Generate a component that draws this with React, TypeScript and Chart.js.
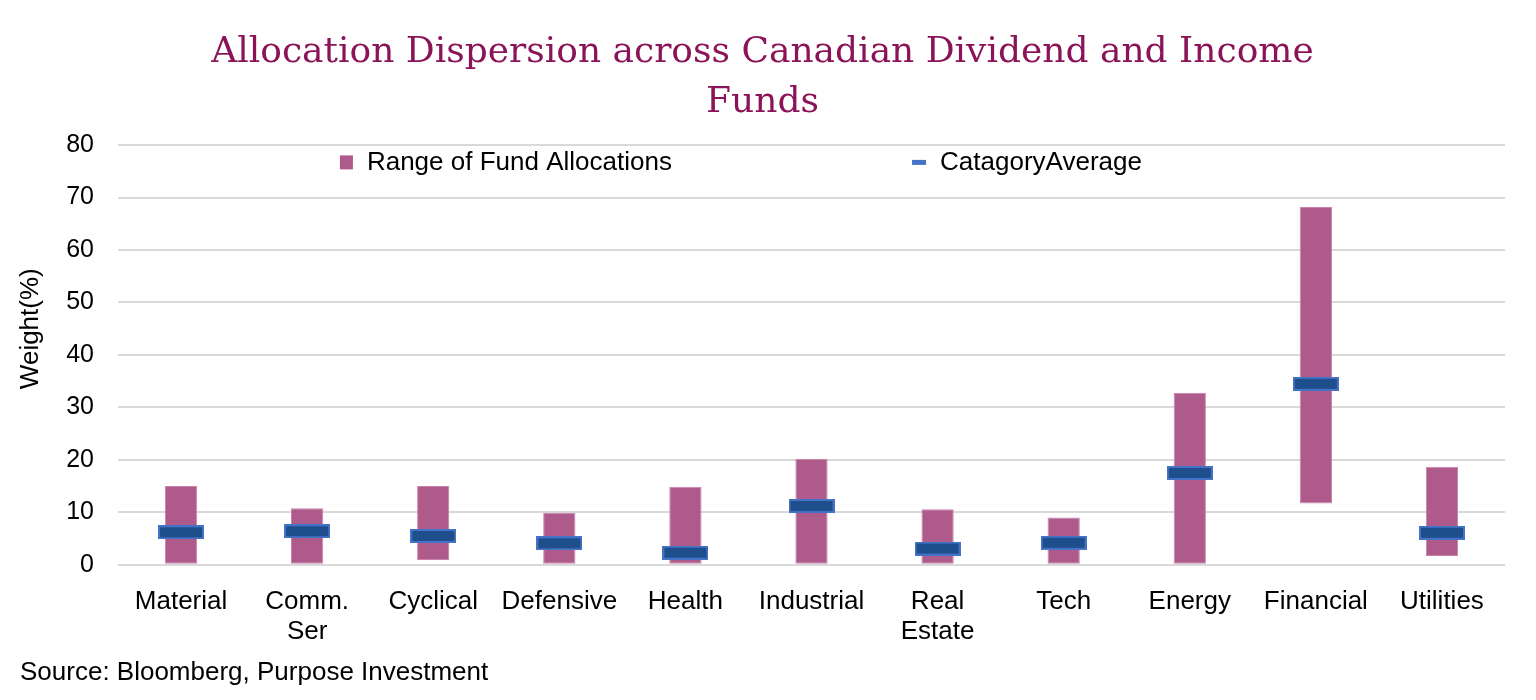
import { useEffect, useRef } from "react"
import { Chart, registerables } from "chart.js"

Chart.register(...registerables)

const categories: (string | string[])[] = [
  "Material", ["Comm.", "Ser"], "Cyclical", "Defensive", "Health", "Industrial",
  ["Real", "Estate"], "Tech", "Energy", "Financial", "Utilities",
]
const rangeMin = [0, 0, 0.9, 0, 0, 0, 0, 0, 0, 11.7, 1.7]
const rangeMax = [15, 10.8, 15, 9.9, 14.9, 20.2, 10.6, 9.0, 32.8, 68.2, 18.7]
const categoryAverage = [6.2, 6.4, 5.5, 4.1, 2.3, 11.2, 3.1, 4.2, 17.5, 34.5, 6.1]
const yTicks = [0, 10, 20, 30, 40, 50, 60, 70, 80]

const PINK = "#AE5A8A"
const NAVY = "#1F4E8C"
const BLUE = "#4472C4"
const FONT = "'Liberation Sans', Arial, sans-serif"

// legend sits inside the plot, and the y title is a little above centre
const overlayPlugin = {
  id: "overlay",
  afterDraw(chart: Chart) {
    const { ctx, chartArea } = chart
    const yScale = chart.scales.y
    const y = yScale.getPixelForValue(76.7)
    const w = chartArea.right - chartArea.left
    ctx.save()
    ctx.font = `26px ${FONT}`
    ctx.textBaseline = "middle"
    const x1 = chartArea.left + w * 0.16
    ctx.fillStyle = PINK
    ctx.fillRect(x1, y - 7, 13, 14)
    ctx.fillStyle = "#000"
    ctx.fillText("Range of Fund Allocations", x1 + 27, y)
    const x2 = chartArea.left + w * 0.5725
    ctx.fillStyle = BLUE
    ctx.fillRect(x2, y - 2.5, 14, 5)
    ctx.fillStyle = "#000"
    ctx.fillText("CatagoryAverage", x2 + 28, y)

    ctx.translate(31, yScale.getPixelForValue(45))
    ctx.rotate(-Math.PI / 2)
    ctx.textAlign = "center"
    ctx.fillText("Weight(%)", 0, 0)
    ctx.restore()
  },
}

export default function App() {
  const chartRef = useRef<HTMLCanvasElement>(null)
  const chartInstance = useRef<Chart | null>(null)

  useEffect(() => {
    if (!chartRef.current) return
    if (chartInstance.current) chartInstance.current.destroy()
    const ctx = chartRef.current.getContext("2d")
    if (!ctx) return

    const marker = document.createElement("canvas")
    marker.width = 46
    marker.height = 14
    const mctx = marker.getContext("2d")
    if (mctx) {
      mctx.fillStyle = NAVY
      mctx.fillRect(1, 1, 44, 12)
      mctx.strokeStyle = BLUE
      mctx.lineWidth = 2
      mctx.strokeRect(1, 1, 44, 12)
    }

    chartInstance.current = new Chart(ctx, {
      type: "bar",
      data: {
        labels: categories,
        datasets: [
          {
            type: "line",
            label: "CatagoryAverage",
            data: categoryAverage,
            showLine: false,
            pointStyle: marker,
            pointRadius: 10,
            order: 0,
          },
          {
            type: "bar",
            label: "Range of Fund Allocations",
            data: rangeMin.map((v, i) => [v, rangeMax[i]]),
            backgroundColor: PINK,
            borderColor: "#C982AA",
            borderWidth: 1,
            borderSkipped: false,
            barPercentage: 0.256,
            categoryPercentage: 1,
            order: 1,
          },
        ] as any,
      },
      options: {
        animation: false,
        responsive: false,
        layout: { padding: { left: 20, right: 31, top: 6, bottom: 12 } },
        scales: {
          x: {
            grid: { display: false },
            border: { display: false },
            ticks: {
              color: "#000",
              font: { family: FONT, size: 26, lineHeight: 1.15 },
              padding: 14,
              maxRotation: 0,
              autoSkip: false,
            },
            afterFit(scale: any) {
              scale.height = 92
            },
          },
          y: {
            min: 0,
            max: 80,
            afterBuildTicks(scale: any) {
              scale.ticks = yTicks.map((v) => ({ value: v }))
            },
            grid: { color: "#D9D9D9", lineWidth: 2, drawTicks: false },
            border: { display: false },
            ticks: {
              color: "#000",
              font: { family: FONT, size: 25 },
              padding: 24,
            },
            afterFit(scale: any) {
              scale.width = 98
            },
          },
        },
        plugins: {
          legend: { display: false },
          tooltip: { enabled: false },
          title: {
            display: true,
            text: ["Allocation Dispersion across Canadian Dividend and Income", "Funds"],
            color: "#8B1458",
            font: { family: "'DejaVu Serif', Georgia, serif", size: 36, weight: "normal", lineHeight: 1.39 },
            padding: { top: 22, bottom: 17 },
          },
          subtitle: {
            display: true,
            position: "bottom",
            align: "start",
            text: "Source: Bloomberg, Purpose Investment",
            color: "#000",
            font: { family: FONT, size: 26, lineHeight: 1.2 },
            padding: 0,
          },
        },
      },
      plugins: [overlayPlugin],
    })

    return () => {
      if (chartInstance.current) {
        chartInstance.current.destroy()
        chartInstance.current = null
      }
    }
  }, [])

  return (
    <div style={{ position: "fixed", left: 0, top: 0, width: 1536, height: 700, background: "#fff" }}>
      <canvas ref={chartRef} width={1536} height={700} style={{ width: 1536, height: 700 }} />
    </div>
  )
}
